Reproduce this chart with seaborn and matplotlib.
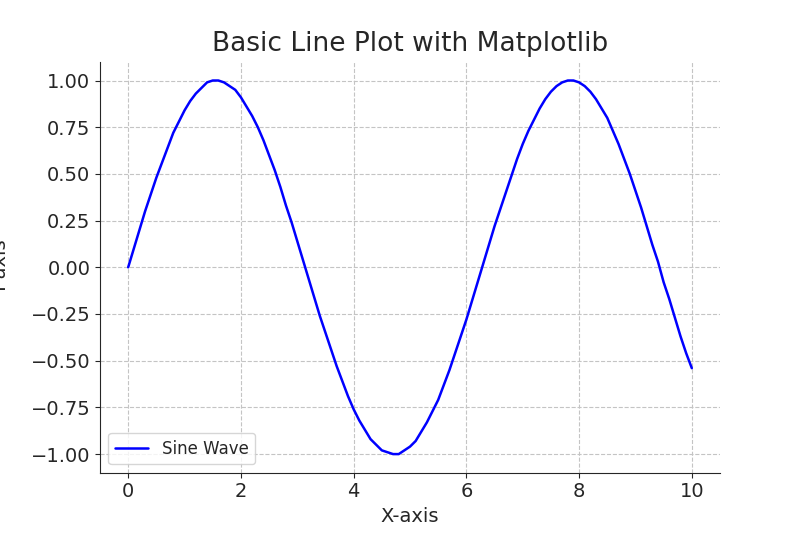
import matplotlib
matplotlib.use("Agg")
import matplotlib.pyplot as plt
import seaborn as sns
import pandas as pd

x_vals = [round(i * 0.1, 1) for i in range(101)]
y_vals = [0.00, 0.10, 0.20, 0.30, 0.39, 0.48, 0.56, 0.64, 0.72, 0.78,
          0.84, 0.89, 0.93, 0.96, 0.99, 1.00, 1.00, 0.99, 0.97, 0.95,
          0.91, 0.86, 0.81, 0.75, 0.68, 0.60, 0.52, 0.43, 0.33, 0.24,
          0.14, 0.04, -0.06, -0.16, -0.26, -0.35, -0.44, -0.53, -0.61, -0.69,
          -0.76, -0.82, -0.87, -0.92, -0.95, -0.98, -0.99, -1.00, -1.00, -0.98,
          -0.96, -0.93, -0.88, -0.83, -0.77, -0.71, -0.63, -0.55, -0.46, -0.37,
          -0.28, -0.18, -0.08, 0.02, 0.12, 0.22, 0.31, 0.40, 0.49, 0.58,
          0.66, 0.73, 0.79, 0.85, 0.90, 0.94, 0.97, 0.99, 1.00, 1.00,
          0.99, 0.97, 0.94, 0.90, 0.85, 0.80, 0.73, 0.66, 0.58, 0.50,
          0.41, 0.32, 0.22, 0.12, 0.03, -0.08, -0.17, -0.27, -0.37, -0.46,
          -0.54]

df = pd.DataFrame({"x": x_vals, "y": y_vals})

sns.set_style("ticks")
fig, ax = plt.subplots(figsize=(8, 5.33), dpi=100)
fig.subplots_adjust(left=0.125, right=0.9, top=0.884, bottom=0.113)

sns.lineplot(data=df, x="x", y="y", color="blue", linewidth=1.8, label="Sine Wave", ax=ax)

ax.set_title("Basic Line Plot with Matplotlib", fontsize=19, pad=8)
ax.set_xlabel("X-axis", fontsize=14)
ax.set_ylabel("Y-axis", fontsize=14)
ax.yaxis.set_label_coords(-0.145, 0.5)
ax.set_yticks([-1.0, -0.75, -0.5, -0.25, 0.0, 0.25, 0.5, 0.75, 1.0])
ax.set_xticks([0, 2, 4, 6, 8, 10])
ax.tick_params(labelsize=14)
ax.grid(True, linestyle="--", color="#c4c4c4", linewidth=0.8)
sns.despine(ax=ax)
ax.legend(loc="lower left", fontsize=12, framealpha=0.8)

fig.savefig("out.png", dpi=100)
